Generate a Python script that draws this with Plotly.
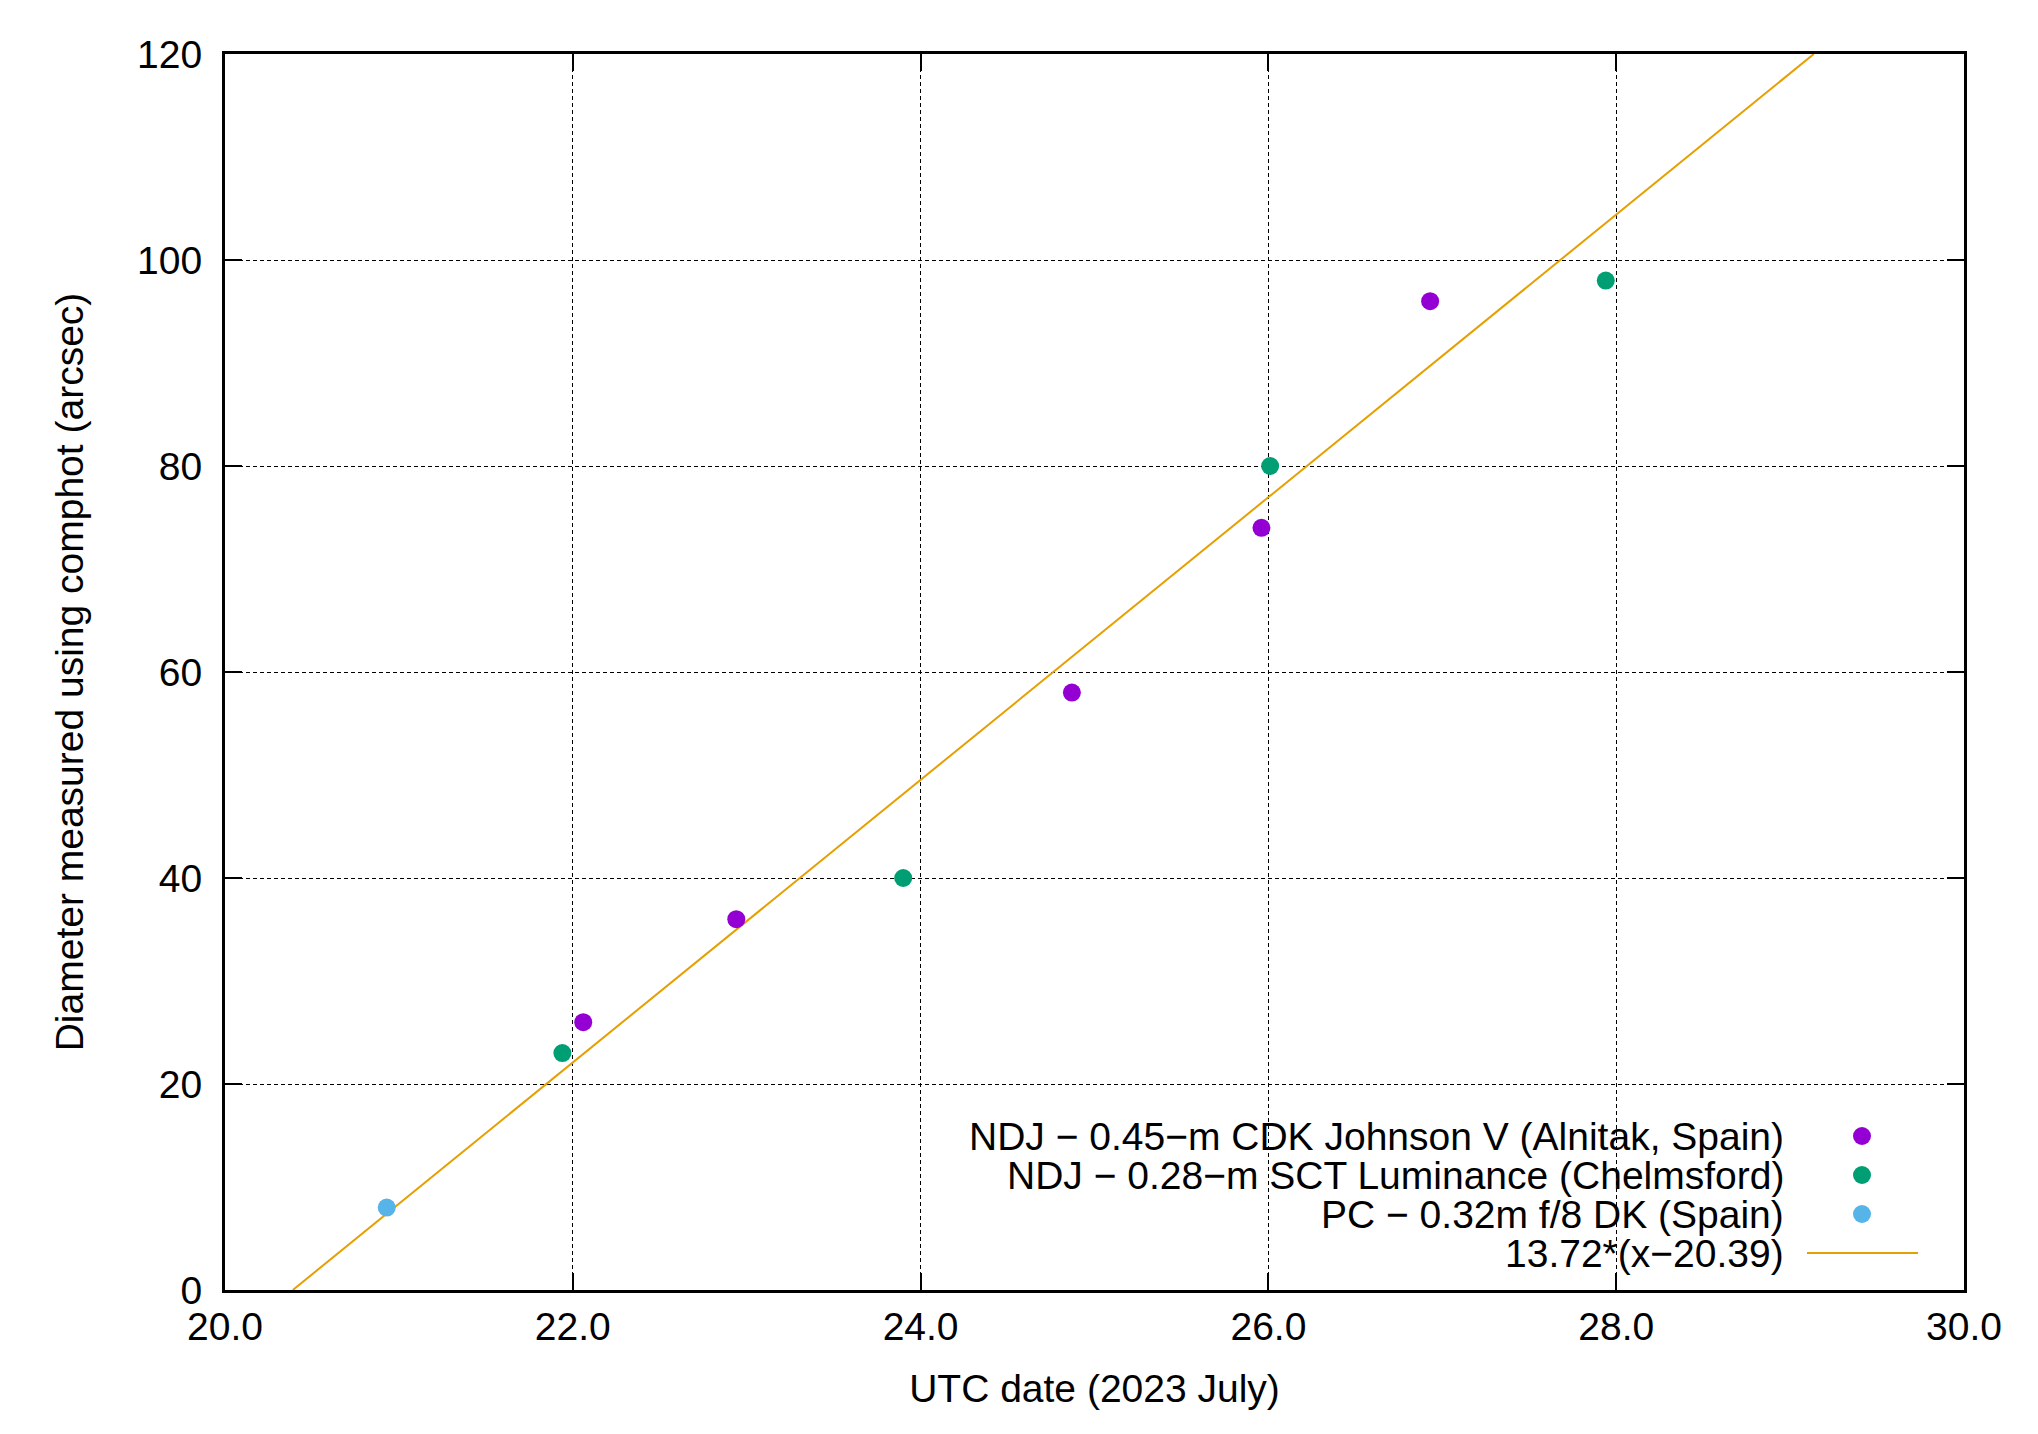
import plotly.graph_objects as go

# ---- data ----
ndj_045_x = [22.06, 22.94, 24.87, 25.96, 26.93]
ndj_045_y = [26, 36, 58, 74, 96]
ndj_028_x = [21.94, 23.90, 26.01, 27.94]
ndj_028_y = [23, 40, 80, 98]
pc_x = [20.93]
pc_y = [8]
fit_slope = 13.72
fit_x0 = 20.39

x_ticks = [20, 22, 24, 26, 28, 30]
y_ticks = [0, 20, 40, 60, 80, 100, 120]

legend_labels = [
    "NDJ − 0.45−m CDK Johnson V (Alnitak, Spain)",
    "NDJ − 0.28−m SCT Luminance (Chelmsford)",
    "PC − 0.32m f/8 DK (Spain)",
    "13.72*(x−20.39)",
]

C_PURPLE = "#9400D3"
C_GREEN = "#009E73"
C_CYAN = "#56B4E9"
C_ORANGE = "#E69F00"
FONT = "Liberation Sans, Arial, sans-serif"
FS = 39

y_max = 120
fit_x = [fit_x0, fit_x0 + y_max / fit_slope]
fit_y = [fit_slope * (x - fit_x0) for x in fit_x]

fig = go.Figure()
fig.add_trace(go.Scatter(x=fit_x, y=fit_y, mode="lines",
                         line=dict(color=C_ORANGE, width=2), showlegend=False))
for xs, ys, c in [(ndj_045_x, ndj_045_y, C_PURPLE),
                  (ndj_028_x, ndj_028_y, C_GREEN),
                  (pc_x, pc_y, C_CYAN)]:
    fig.add_trace(go.Scatter(x=xs, y=ys, mode="markers",
                             marker=dict(color=c, size=18, line=dict(width=0)),
                             showlegend=False, cliponaxis=False))

# page has an 8px body margin; compensate so the plot lands where the reference has it
PAGE_OFF = 8
FIG_W, FIG_H = 2038 - PAGE_OFF, 1434 - PAGE_OFF

# plot area in page pixels (reference)
plot_l, plot_r, plot_t, plot_b = 225, 1964, 54, 1290
W = plot_r - plot_l
H = plot_b - plot_t


def px(xp):
    return (xp - plot_l) / W


def py(yp):
    return (plot_b - yp) / H


shapes = []
annotations = []
shapes.append(dict(type="rect", xref="paper", yref="paper",
                   x0=px(955), x1=1, y0=0, y1=py(1118),
                   fillcolor="white", line=dict(width=0), layer="between"))
rows = [1136, 1175, 1214, 1253]
colors = [C_PURPLE, C_GREEN, C_CYAN]
for i, lab in enumerate(legend_labels):
    annotations.append(dict(xref="paper", yref="paper", x=px(1786), y=py(rows[i]),
                            text=lab, showarrow=False, xanchor="right", yanchor="middle",
                            font=dict(family=FONT, size=FS, color="black")))
for i, c in enumerate(colors):
    shapes.append(dict(type="circle", xref="paper", yref="paper",
                       xsizemode="pixel", ysizemode="pixel",
                       xanchor=px(1862), yanchor=py(rows[i]),
                       x0=-9, x1=9, y0=-9, y1=9,
                       fillcolor=c, line=dict(width=0), layer="above"))
shapes.append(dict(type="line", xref="paper", yref="paper",
                   x0=px(1807), x1=px(1918), y0=py(rows[3]), y1=py(rows[3]),
                   line=dict(color=C_ORANGE, width=2), layer="above"))

axis_common = dict(
    showline=True, linecolor="black", linewidth=3, mirror="ticks",
    ticks="inside", ticklen=17, tickwidth=2, tickcolor="black",
    showgrid=True, gridcolor="black", gridwidth=1, griddash="4px,3px",
    zeroline=False,
    tickfont=dict(family=FONT, size=FS, color="black"),
)

fig.update_layout(
    width=FIG_W, height=FIG_H,
    margin=dict(l=plot_l - PAGE_OFF, r=FIG_W - (plot_r - PAGE_OFF),
                t=plot_t - PAGE_OFF, b=FIG_H - (plot_b - PAGE_OFF)),
    paper_bgcolor="white", plot_bgcolor="white",
    font=dict(family=FONT, size=FS, color="black"),
    xaxis=dict(range=[20, 30], tickvals=x_ticks,
               ticktext=[f"{v:.1f}" for v in x_ticks],
               ticklabelstandoff=0,
               title=dict(text="UTC date (2023 July)", standoff=28,
                          font=dict(family=FONT, size=FS, color="black")),
               **axis_common),
    yaxis=dict(range=[0, y_max], tickvals=y_ticks,
               ticktext=[str(v) for v in y_ticks],
               ticklabelstandoff=12,
               title=dict(text="Diameter measured using comphot (arcsec)", standoff=42,
                          font=dict(family=FONT, size=FS, color="black")),
               **axis_common),
    shapes=shapes,
    annotations=annotations,
    showlegend=False,
)

fig.write_html("out.html")
